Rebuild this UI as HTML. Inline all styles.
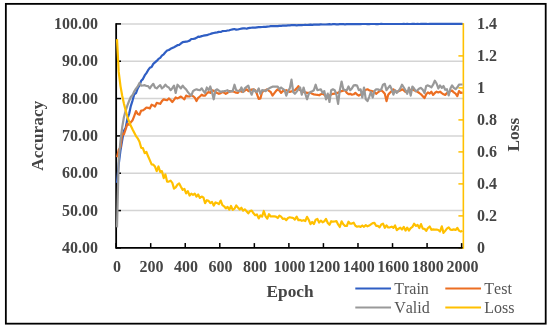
<!DOCTYPE html>
<html><head><meta charset="utf-8"><title>Chart</title>
<style>
html,body{margin:0;padding:0;background:#fff;}
svg{display:block;}
text{font-family:"Liberation Serif","DejaVu Serif",serif;fill:#454545;font-kerning:none;}
.t{font-size:16px;font-weight:bold;}
.a{font-size:17.3px;font-weight:bold;}
.l{font-size:16px;fill:#555;}
</style></head><body>
<svg width="550" height="329" viewBox="0 0 550 329">
<rect x="0" y="0" width="550" height="329" fill="#fff"/>
<rect x="5.85" y="3.87" width="539.85" height="319.8" fill="none" stroke="#000" stroke-width="1.8"/>
<line x1="116.2" y1="210.57" x2="463.4" y2="210.57" stroke="#d4d4d4" stroke-width="1.5"/><line x1="116.2" y1="173.23" x2="463.4" y2="173.23" stroke="#d4d4d4" stroke-width="1.5"/><line x1="116.2" y1="135.90" x2="463.4" y2="135.90" stroke="#d4d4d4" stroke-width="1.5"/><line x1="116.2" y1="98.57" x2="463.4" y2="98.57" stroke="#d4d4d4" stroke-width="1.5"/><line x1="116.2" y1="61.23" x2="463.4" y2="61.23" stroke="#d4d4d4" stroke-width="1.5"/><line x1="116.2" y1="23.90" x2="463.4" y2="23.90" stroke="#d4d4d4" stroke-width="1.5"/>
<line x1="463.35" y1="23.2" x2="463.35" y2="248.75" stroke="#ffc000" stroke-width="1.6"/>
<line x1="463.4" y1="247.90" x2="458.4" y2="247.90" stroke="#ffc000" stroke-width="1.5"/><line x1="463.4" y1="215.90" x2="458.4" y2="215.90" stroke="#ffc000" stroke-width="1.5"/><line x1="463.4" y1="183.90" x2="458.4" y2="183.90" stroke="#ffc000" stroke-width="1.5"/><line x1="463.4" y1="151.90" x2="458.4" y2="151.90" stroke="#ffc000" stroke-width="1.5"/><line x1="463.4" y1="119.90" x2="458.4" y2="119.90" stroke="#ffc000" stroke-width="1.5"/><line x1="463.4" y1="87.90" x2="458.4" y2="87.90" stroke="#ffc000" stroke-width="1.5"/><line x1="463.4" y1="55.90" x2="458.4" y2="55.90" stroke="#ffc000" stroke-width="1.5"/><line x1="463.4" y1="23.90" x2="458.4" y2="23.90" stroke="#ffc000" stroke-width="1.5"/>
<line x1="116.15" y1="23.2" x2="116.15" y2="248.8" stroke="#000" stroke-width="1.8"/>
<line x1="116.15" y1="247.9" x2="462.55" y2="247.9" stroke="#000" stroke-width="1.8"/>
<line x1="116.2" y1="247.90" x2="121.0" y2="247.90" stroke="#000" stroke-width="1.5"/><line x1="116.2" y1="210.57" x2="121.0" y2="210.57" stroke="#000" stroke-width="1.5"/><line x1="116.2" y1="173.23" x2="121.0" y2="173.23" stroke="#000" stroke-width="1.5"/><line x1="116.2" y1="135.90" x2="121.0" y2="135.90" stroke="#000" stroke-width="1.5"/><line x1="116.2" y1="98.57" x2="121.0" y2="98.57" stroke="#000" stroke-width="1.5"/><line x1="116.2" y1="61.23" x2="121.0" y2="61.23" stroke="#000" stroke-width="1.5"/><line x1="116.2" y1="23.90" x2="121.0" y2="23.90" stroke="#000" stroke-width="1.5"/><line x1="116.15" y1="247.90" x2="116.15" y2="243.10" stroke="#000" stroke-width="1.5"/><line x1="150.70" y1="247.90" x2="150.70" y2="243.10" stroke="#000" stroke-width="1.5"/><line x1="185.24" y1="247.90" x2="185.24" y2="243.10" stroke="#000" stroke-width="1.5"/><line x1="219.79" y1="247.90" x2="219.79" y2="243.10" stroke="#000" stroke-width="1.5"/><line x1="254.34" y1="247.90" x2="254.34" y2="243.10" stroke="#000" stroke-width="1.5"/><line x1="288.89" y1="247.90" x2="288.89" y2="243.10" stroke="#000" stroke-width="1.5"/><line x1="323.43" y1="247.90" x2="323.43" y2="243.10" stroke="#000" stroke-width="1.5"/><line x1="357.98" y1="247.90" x2="357.98" y2="243.10" stroke="#000" stroke-width="1.5"/><line x1="392.53" y1="247.90" x2="392.53" y2="243.10" stroke="#000" stroke-width="1.5"/><line x1="427.08" y1="247.90" x2="427.08" y2="243.10" stroke="#000" stroke-width="1.5"/><line x1="461.62" y1="247.90" x2="461.62" y2="243.10" stroke="#000" stroke-width="1.5"/>
<polyline points="117.0,182.9 118.7,164.5 120.5,150.2 122.2,140.2 123.9,130.9 125.7,127.8 127.4,118.7 129.1,114.0 130.8,106.1 132.6,100.3 134.3,94.3 136.0,93.1 137.7,88.4 139.5,85.2 141.2,80.8 142.9,79.1 144.7,75.4 146.4,73.1 148.1,70.2 149.8,67.8 151.6,67.0 153.3,63.9 155.0,62.4 156.7,60.9 158.5,58.9 160.2,57.9 161.9,55.6 163.7,54.3 165.4,52.3 167.1,50.5 168.8,50.0 170.6,48.8 172.3,48.0 174.0,47.2 175.7,46.3 177.5,45.2 179.2,44.9 180.9,43.5 182.7,42.2 184.4,41.9 186.1,41.6 187.8,41.3 189.6,40.6 191.3,39.0 193.0,39.0 194.7,38.7 196.5,37.8 198.2,36.6 199.9,36.8 201.7,36.1 203.4,35.7 205.1,35.4 206.8,35.2 208.6,34.5 210.3,34.0 212.0,33.4 213.7,33.0 215.5,32.6 217.2,32.4 218.9,31.9 220.7,32.0 222.4,31.1 224.1,31.0 225.8,31.0 227.6,30.5 229.3,30.3 231.0,29.8 232.7,29.4 234.5,29.0 236.2,29.7 237.9,29.5 239.7,29.0 241.4,28.7 243.1,28.4 244.8,28.3 246.6,28.7 248.3,28.1 250.0,27.8 251.7,27.7 253.5,27.5 255.2,27.6 256.9,27.4 258.7,27.2 260.4,27.1 262.1,27.0 263.8,26.9 265.6,26.9 267.3,26.6 269.0,26.5 270.7,26.2 272.5,26.1 274.2,26.2 275.9,26.1 277.7,26.1 279.4,25.8 281.1,25.8 282.8,25.7 284.6,25.6 286.3,25.6 288.0,25.4 289.8,25.4 291.5,25.2 293.2,25.2 294.9,25.1 296.7,25.3 298.4,25.1 300.1,25.0 301.8,25.1 303.6,25.0 305.3,24.9 307.0,25.0 308.8,24.8 310.5,24.7 312.2,24.8 313.9,24.6 315.7,24.7 317.4,24.6 319.1,24.7 320.8,24.4 322.6,24.5 324.3,24.5 326.0,24.5 327.8,24.3 329.5,24.2 331.2,24.5 332.9,24.2 334.7,24.2 336.4,24.3 338.1,24.3 339.8,24.2 341.6,24.2 343.3,24.2 345.0,24.3 346.8,24.1 348.5,24.1 350.2,24.2 351.9,24.1 353.7,24.2 355.4,24.1 357.1,24.1 358.8,24.1 360.6,24.1 362.3,24.0 364.0,24.0 365.8,24.0 367.5,24.1 369.2,24.1 370.9,24.0 372.7,24.0 374.4,24.0 376.1,24.1 377.8,24.1 379.6,24.0 381.3,23.9 383.0,24.0 384.8,24.0 386.5,24.0 388.2,24.0 389.9,24.0 391.7,24.0 393.4,24.0 395.1,24.0 396.8,24.0 398.6,24.0 400.3,24.0 402.0,24.0 403.8,23.9 405.5,24.0 407.2,23.9 408.9,24.0 410.7,24.0 412.4,23.9 414.1,23.9 415.8,24.0 417.6,23.9 419.3,24.0 421.0,23.9 422.8,23.9 424.5,23.9 426.2,23.9 427.9,24.0 429.7,23.9 431.4,23.9 433.1,23.9 434.8,23.9 436.6,23.9 438.3,23.9 440.0,23.9 441.8,23.9 443.5,23.9 445.2,23.9 446.9,23.9 448.7,23.9 450.4,23.9 452.1,23.9 453.8,23.9 455.6,23.9 457.3,23.9 459.0,23.9 460.8,23.9 462.5,23.9" fill="none" stroke="#2f5ec4" stroke-width="2.2" stroke-linejoin="round"/>
<polyline points="117.0,157.2 118.7,149.9 120.5,147.4 122.2,133.6 123.9,134.4 125.7,129.2 127.4,123.8 129.1,124.7 130.8,122.3 132.6,120.2 134.3,115.8 136.0,111.1 137.7,113.9 139.5,114.7 141.2,110.5 142.9,110.4 144.7,109.1 146.4,107.5 148.1,107.8 149.8,108.4 151.6,104.7 153.3,105.4 155.0,106.5 156.7,102.9 158.5,103.4 160.2,103.8 161.9,101.1 163.7,99.3 165.4,99.9 167.1,100.2 168.8,98.4 170.6,100.0 172.3,102.0 174.0,99.8 175.7,97.5 177.5,98.4 179.2,97.5 180.9,96.5 182.7,98.0 184.4,99.3 186.1,95.6 187.8,96.4 189.6,96.5 191.3,94.7 193.0,96.2 194.7,97.5 196.5,101.1 198.2,97.8 199.9,96.5 201.7,94.7 203.4,95.7 205.1,95.6 206.8,93.3 208.6,92.0 210.3,92.9 212.0,90.2 213.7,90.8 215.5,92.0 217.2,93.0 218.9,93.8 220.7,93.1 222.4,92.0 224.1,92.6 225.8,93.8 227.6,92.8 229.3,91.1 231.0,91.4 232.7,91.2 234.5,92.0 236.2,92.7 237.9,92.9 239.7,90.2 241.4,91.6 243.1,92.0 244.8,90.6 246.6,89.3 248.3,91.1 250.0,90.5 251.7,89.5 253.5,89.3 255.2,90.2 256.9,93.8 258.7,98.9 260.4,98.4 262.1,92.0 263.8,91.1 265.6,90.2 267.3,89.3 269.0,90.9 270.7,92.0 272.5,95.6 274.2,93.4 275.9,91.1 277.7,89.3 279.4,90.5 281.1,92.9 282.8,91.1 284.6,90.8 286.3,90.2 288.0,91.0 289.8,92.0 291.5,91.3 293.2,91.1 294.9,90.1 296.7,88.4 298.4,86.2 300.1,90.2 301.8,91.3 303.6,92.0 305.3,92.3 307.0,92.9 308.8,92.9 310.5,92.9 312.2,93.8 313.9,94.4 315.7,94.7 317.4,94.8 319.1,95.3 320.8,94.3 322.6,93.8 324.3,94.7 326.0,96.4 327.8,97.5 329.5,95.6 331.2,94.5 332.9,93.8 334.7,93.7 336.4,92.9 338.1,92.9 339.8,91.6 341.6,91.1 343.3,90.6 345.0,90.2 346.8,92.9 348.5,94.1 350.2,93.8 351.9,94.7 353.7,94.3 355.4,92.9 357.1,94.5 358.8,95.6 360.6,94.5 362.3,93.8 364.0,91.1 365.8,89.8 367.5,89.3 369.2,90.2 370.9,90.9 372.7,91.4 374.4,92.0 376.1,93.8 377.8,92.5 379.6,91.1 381.3,90.2 383.0,91.8 384.8,93.8 386.5,101.1 388.2,94.7 389.9,92.7 391.7,91.1 393.4,89.3 395.1,90.8 396.8,92.0 398.6,91.1 400.3,90.5 402.0,89.3 403.8,90.4 405.5,92.0 407.2,91.1 408.9,91.1 410.7,89.9 412.4,89.3 414.1,90.2 415.8,91.1 417.6,91.8 419.3,93.0 421.0,94.3 422.8,96.2 424.5,98.1 426.2,94.3 427.9,92.4 429.7,93.6 431.4,91.7 433.1,94.9 434.8,93.0 436.6,91.7 438.3,92.4 440.0,91.7 441.8,93.2 443.5,94.3 445.2,94.9 446.9,93.0 448.7,92.4 450.4,91.1 452.1,90.5 453.8,92.4 455.6,93.6 457.3,96.2 459.0,91.1 460.8,93.0 462.5,92.4" fill="none" stroke="#ec6e22" stroke-width="2.2" stroke-linejoin="round"/>
<polyline points="117.0,227.4 118.7,160.2 120.5,140.4 122.2,127.3 123.9,117.2 125.7,110.6 127.4,105.4 129.1,101.0 130.8,97.0 132.6,95.1 134.3,91.3 136.0,88.6 137.7,86.5 139.5,82.9 141.2,85.6 142.9,85.5 144.7,85.1 146.4,86.0 148.1,86.2 149.8,88.4 151.6,85.7 153.3,83.8 155.0,87.5 156.7,88.4 158.5,86.5 160.2,85.1 161.9,88.4 163.7,87.0 165.4,84.7 167.1,86.6 168.8,87.5 170.6,90.2 172.3,88.2 174.0,85.6 175.7,92.9 177.5,84.7 179.2,86.5 180.9,88.4 182.7,85.6 184.4,87.9 186.1,89.3 187.8,92.0 189.6,94.1 191.3,95.6 193.0,91.1 194.7,90.0 196.5,89.3 198.2,89.9 199.9,90.2 201.7,88.4 203.4,91.0 205.1,92.9 206.8,87.5 208.6,90.2 210.3,86.5 212.0,92.0 213.7,99.3 215.5,90.2 217.2,89.3 218.9,90.6 220.7,92.0 222.4,91.3 224.1,91.1 225.8,90.8 227.6,90.2 229.3,92.0 231.0,91.2 232.7,91.1 234.5,84.7 236.2,90.2 237.9,90.7 239.7,91.1 241.4,87.5 243.1,92.0 244.8,88.4 246.6,86.9 248.3,85.6 250.0,91.1 251.7,94.7 253.5,89.3 255.2,91.2 256.9,92.0 258.7,88.4 260.4,93.8 262.1,90.2 263.8,90.4 265.6,91.1 267.3,89.6 269.0,88.4 270.7,87.5 272.5,86.7 274.2,86.5 275.9,86.6 277.7,86.5 279.4,89.3 281.1,87.5 282.8,88.8 284.6,90.2 286.3,95.6 288.0,91.2 289.8,88.4 291.5,79.6 293.2,92.0 294.9,93.8 296.7,91.6 298.4,89.3 300.1,87.5 301.8,94.7 303.6,87.5 305.3,93.8 307.0,99.3 308.8,93.8 310.5,92.0 312.2,91.2 313.9,90.2 315.7,84.7 317.4,90.2 319.1,89.7 320.8,89.3 322.6,92.9 324.3,91.1 326.0,99.3 327.8,93.6 329.5,102.0 331.2,90.2 332.9,89.3 334.7,90.2 336.4,94.6 338.1,103.8 339.8,90.2 341.6,81.5 343.3,89.3 345.0,90.1 346.8,90.2 348.5,86.5 350.2,90.2 351.9,88.4 353.7,85.4 355.4,85.1 357.1,85.6 358.8,90.2 360.6,89.3 362.3,97.5 364.0,87.5 365.8,99.3 367.5,101.1 369.2,96.8 370.9,92.0 372.7,97.5 374.4,91.1 376.1,89.3 377.8,89.3 379.6,90.2 381.3,89.3 383.0,84.7 384.8,83.8 386.5,90.2 388.2,87.8 389.9,85.6 391.7,89.3 393.4,94.7 395.1,90.2 396.8,92.9 398.6,90.8 400.3,88.4 402.0,84.7 403.8,87.5 405.5,90.4 407.2,93.8 408.9,87.5 410.7,95.6 412.4,86.5 414.1,88.5 415.8,91.1 417.6,90.1 419.3,88.5 421.0,87.9 422.8,89.8 424.5,93.0 426.2,86.0 427.9,85.4 429.7,86.3 431.4,87.3 433.1,84.7 434.8,80.7 436.6,83.5 438.3,88.5 440.0,85.4 441.8,87.9 443.5,86.0 445.2,89.8 446.9,89.2 448.7,95.5 450.4,88.5 452.1,85.4 453.8,87.9 455.6,89.2 457.3,87.3 459.0,84.7 460.8,84.5 462.5,84.5" fill="none" stroke="#999999" stroke-width="2.2" stroke-linejoin="round"/>
<polyline points="117.0,39.1 118.7,71.9 120.5,86.1 122.2,95.8 123.9,103.6 125.7,110.5 127.4,116.8 129.1,121.7 130.8,125.8 132.6,129.5 134.3,132.8 136.0,136.1 137.7,138.3 139.5,141.7 141.2,147.8 142.9,148.1 144.7,153.1 146.4,151.9 148.1,156.3 149.8,160.1 151.6,164.4 153.3,164.7 155.0,166.6 156.7,171.2 158.5,166.5 160.2,171.9 161.9,171.1 163.7,178.1 165.4,174.4 167.1,181.6 168.8,181.6 170.6,180.6 172.3,182.8 174.0,188.6 175.7,187.4 177.5,184.7 179.2,183.4 180.9,186.7 182.7,189.9 184.4,188.8 186.1,193.4 187.8,191.1 189.6,195.5 191.3,193.7 193.0,194.8 194.7,193.7 196.5,196.6 198.2,194.5 199.9,197.9 201.7,196.6 203.4,197.4 205.1,203.1 206.8,200.2 208.6,200.9 210.3,203.1 212.0,201.9 213.7,205.6 215.5,202.4 217.2,203.1 218.9,204.1 220.7,200.6 222.4,205.2 224.1,206.3 225.8,208.4 227.6,206.9 229.3,209.7 231.0,205.9 232.7,209.9 234.5,208.7 236.2,205.5 237.9,207.5 239.7,209.5 241.4,207.7 243.1,210.7 244.8,209.4 246.6,211.2 248.3,213.3 250.0,211.1 251.7,210.5 253.5,213.3 255.2,215.2 256.9,214.5 258.7,218.4 260.4,215.4 262.1,216.6 263.8,211.0 265.6,216.3 267.3,218.6 269.0,214.2 270.7,216.5 272.5,216.4 274.2,216.4 275.9,216.6 277.7,218.0 279.4,215.6 281.1,216.7 282.8,218.9 284.6,218.5 286.3,220.2 288.0,218.0 289.8,217.3 291.5,217.7 293.2,218.0 294.9,219.6 296.7,216.6 298.4,220.2 300.1,219.9 301.8,220.8 303.6,220.2 305.3,221.0 307.0,216.8 308.8,220.0 310.5,224.2 312.2,222.0 313.9,224.0 315.7,219.7 317.4,218.9 319.1,222.6 320.8,220.6 322.6,222.3 324.3,221.3 326.0,218.9 327.8,223.0 329.5,224.8 331.2,221.2 332.9,221.7 334.7,221.5 336.4,221.0 338.1,224.4 339.8,227.0 341.6,221.4 343.3,224.3 345.0,225.9 346.8,226.0 348.5,221.7 350.2,223.7 351.9,223.6 353.7,222.7 355.4,225.7 357.1,226.7 358.8,226.3 360.6,226.9 362.3,225.5 364.0,226.8 365.8,225.1 367.5,226.3 369.2,225.6 370.9,224.4 372.7,223.1 374.4,222.9 376.1,225.8 377.8,225.8 379.6,227.3 381.3,224.5 383.0,223.6 384.8,227.8 386.5,225.3 388.2,227.5 389.9,227.3 391.7,226.7 393.4,227.9 395.1,225.5 396.8,230.2 398.6,228.7 400.3,227.7 402.0,229.5 403.8,226.9 405.5,230.6 407.2,227.6 408.9,230.5 410.7,228.1 412.4,226.9 414.1,223.7 415.8,225.9 417.6,225.0 419.3,228.0 421.0,224.1 422.8,228.7 424.5,228.8 426.2,230.9 427.9,228.0 429.7,226.5 431.4,229.8 433.1,229.4 434.8,229.6 436.6,229.5 438.3,230.0 440.0,231.5 441.8,226.4 443.5,232.9 445.2,230.9 446.9,228.6 448.7,227.3 450.4,229.7 452.1,229.9 453.8,229.4 455.6,230.0 457.3,227.9 459.0,230.6 460.8,231.6 462.5,230.7" fill="none" stroke="#ffc000" stroke-width="2.2" stroke-linejoin="round"/>
<text x="98.0" y="253.0" text-anchor="end" class="t">40.00</text><text x="98.0" y="215.7" text-anchor="end" class="t">50.00</text><text x="98.0" y="178.3" text-anchor="end" class="t">60.00</text><text x="98.0" y="141.0" text-anchor="end" class="t">70.00</text><text x="98.0" y="103.7" text-anchor="end" class="t">80.00</text><text x="98.0" y="66.3" text-anchor="end" class="t">90.00</text><text x="98.0" y="29.0" text-anchor="end" class="t">100.00</text><text x="477.1" y="253.1" class="t">0</text><text x="477.1" y="221.1" class="t">0.2</text><text x="477.1" y="189.1" class="t">0.4</text><text x="477.1" y="157.1" class="t">0.6</text><text x="477.1" y="125.1" class="t">0.8</text><text x="477.1" y="93.1" class="t">1</text><text x="477.1" y="61.1" class="t">1.2</text><text x="477.1" y="29.1" class="t">1.4</text><text x="116.9" y="271.9" text-anchor="middle" class="t">0</text><text x="151.5" y="271.9" text-anchor="middle" class="t">200</text><text x="186.0" y="271.9" text-anchor="middle" class="t">400</text><text x="220.6" y="271.9" text-anchor="middle" class="t">600</text><text x="255.1" y="271.9" text-anchor="middle" class="t">800</text><text x="289.6" y="271.9" text-anchor="middle" class="t">1000</text><text x="324.2" y="271.9" text-anchor="middle" class="t">1200</text><text x="358.7" y="271.9" text-anchor="middle" class="t">1400</text><text x="393.3" y="271.9" text-anchor="middle" class="t">1600</text><text x="427.8" y="271.9" text-anchor="middle" class="t">1800</text><text x="462.4" y="271.9" text-anchor="middle" class="t">2000</text>
<text x="290.1" y="297" text-anchor="middle" class="a">Epoch</text>
<text transform="translate(43.1,135.8) rotate(-90)" text-anchor="middle" class="a">Accuracy</text>
<text transform="translate(518.8,134.6) rotate(-90)" text-anchor="middle" class="a">Loss</text>
<line x1="355.3" y1="288.6" x2="391" y2="288.6" stroke="#2f5ec4" stroke-width="2.0"/>
<text x="394.2" y="293.9" class="l">Train</text>
<line x1="445.3" y1="288.6" x2="481" y2="288.6" stroke="#ec6e22" stroke-width="2.0"/>
<text x="484.3" y="293.9" class="l">Test</text>
<line x1="355.3" y1="307.6" x2="391" y2="307.6" stroke="#999999" stroke-width="2.0"/>
<text x="394.2" y="312.7" class="l">Valid</text>
<line x1="445.3" y1="307.6" x2="481" y2="307.6" stroke="#ffc000" stroke-width="2.0"/>
<text x="484.3" y="312.7" class="l">Loss</text>
</svg>
</body></html>
